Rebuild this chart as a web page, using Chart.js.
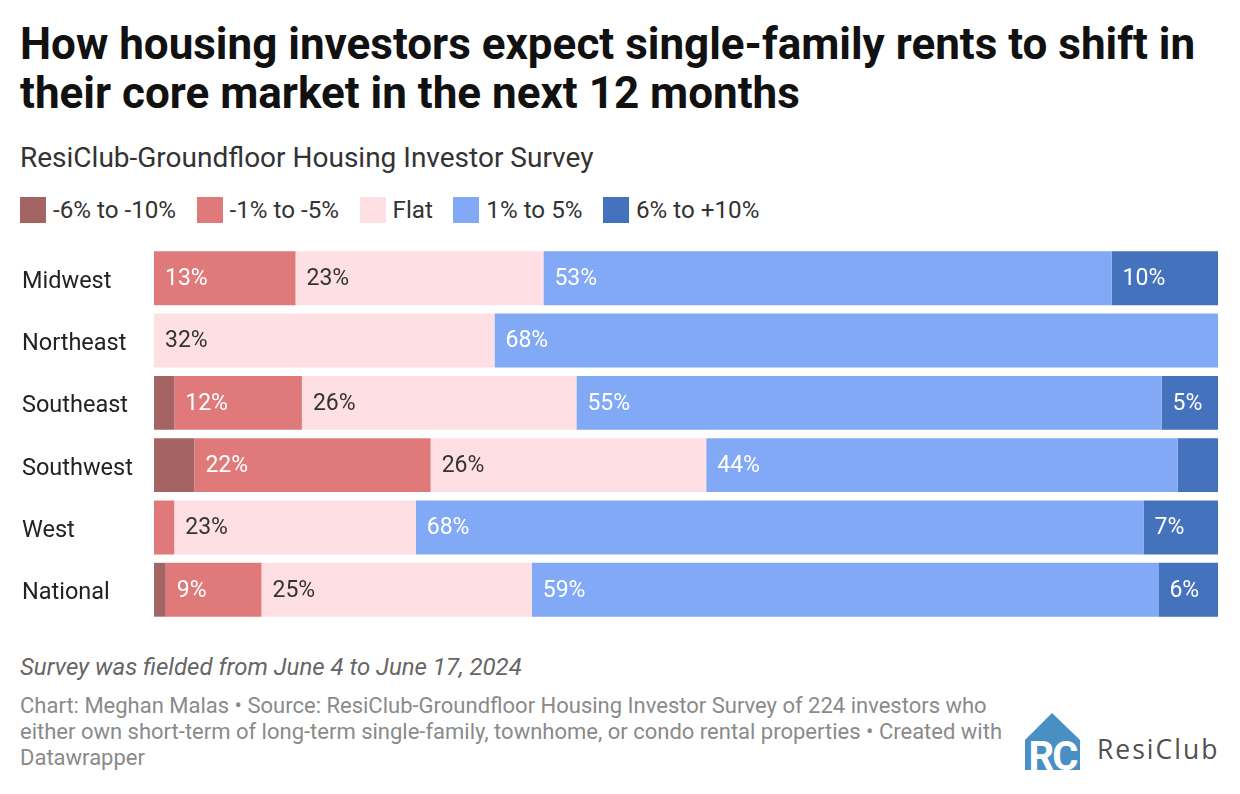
<!DOCTYPE html>
<html>
<head>
<meta charset="utf-8">
<script src="https://cdn.jsdelivr.net/npm/chart.js@4/dist/chart.umd.min.js"></script>
<style>
  html, body { margin: 0; padding: 0; background: #fff; }
  body { width: 1240px; height: 794px; position: relative; font-family: Roboto, "Noto Sans", sans-serif; overflow: hidden; }
  #title { position: absolute; left: 20px; top: 20px; width: 1210px; font-size: 44px; font-weight: 700; line-height: 49px; color: #111; }
  #subtitle { position: absolute; left: 20px; top: 141px; font-size: 28px; color: #333; }
  #legend { position: absolute; left: 20px; top: 197px; height: 26px; display: flex; align-items: center; font-size: 24.2px; color: #333; }
  .li { display: flex; align-items: center; margin-right: 20.5px; }
  .sw { width: 26px; height: 26px; margin-right: 7px; }
  #wrap { position: absolute; left: 0; top: 233px; width: 1240px; height: 402px; }
  #note { position: absolute; left: 20px; top: 653px; font-size: 24px; font-style: italic; color: #666; }
  #source { position: absolute; left: 20px; top: 693px; width: 1010px; font-size: 22px; line-height: 26px; color: #8a8a8a; }
  #logo { position: absolute; left: 1024px; top: 712px; }
</style>
</head>
<body>
<div id="title">How housing investors expect single-family rents to shift in their core market in the next 12 months</div>
<div id="subtitle">ResiClub-Groundfloor Housing Investor Survey</div>
<div id="legend"></div>
<div id="wrap"><canvas id="c"></canvas></div>
<div id="note">Survey was fielded from June 4 to June 17, 2024</div>
<div id="source">Chart: Meghan Malas • Source: ResiClub-Groundfloor Housing Investor Survey of 224 investors who either own short-term of long-term single-family, townhome, or condo rental properties • Created with Datawrapper</div>
<svg id="logo" width="210" height="60" viewBox="0 0 210 60">
  <polygon points="28,1 56,28 56,58 1,58 1,28" fill="#4a8fc4"/>
  <text x="28.5" y="58" text-anchor="middle" font-family="Roboto" font-weight="700" font-size="40" fill="#fff" letter-spacing="-2">RC</text>
  <text x="73" y="47" font-family="'Open Sans'" font-weight="500" font-size="26.5" fill="#505050" letter-spacing="2">ResiClub</text>
</svg>
<script>
const categories = ['Midwest', 'Northeast', 'Southeast', 'Southwest', 'West', 'National'];
const seriesNames = ['-6% to -10%', '-1% to -5%', 'Flat', '1% to 5%', '6% to +10%'];
const down6to10 = [0, 0, 1.9, 3.8, 0, 1.1];
const down1to5 = [13.3, 0, 12.0, 22.2, 1.9, 9.0];
const flat = [23.3, 32.0, 25.8, 25.9, 22.7, 25.4];
const up1to5 = [53.4, 68.0, 55.0, 44.3, 68.4, 58.9];
const up6to10 = [10.0, 0, 5.3, 3.8, 7.0, 5.6];

const colors = ['#a46464', '#e07a7a', '#fee0e4', '#82a9f6', '#4472bd'];
const labelColors = ['#ffffff', '#ffffff', '#333333', '#ffffff', '#ffffff'];
const allSeries = [down6to10, down1to5, flat, up1to5, up6to10];

const leg = document.getElementById('legend');
seriesNames.forEach((n, i) => {
  const d = document.createElement('div');
  d.className = 'li';
  d.innerHTML = '<div class="sw" style="background:' + colors[i] + '"></div><span>' + n + '</span>';
  leg.appendChild(d);
});

const segLabels = {
  id: 'segLabels',
  afterDatasetsDraw(chart) {
    const ctx = chart.ctx;
    ctx.save();
    ctx.font = '23px Roboto';
    ctx.textBaseline = 'middle';
    ctx.textAlign = 'left';
    chart.data.datasets.forEach((ds, di) => {
      const meta = chart.getDatasetMeta(di);
      meta.data.forEach((el, i) => {
        const v = ds.data[i];
        const w = Math.abs(el.x - el.base);
        if (!v || w < 48) return;
        ctx.fillStyle = labelColors[di];
        ctx.fillText(Math.round(v) + '%', Math.min(el.x, el.base) + 11, el.y + 1);
      });
    });
    ctx.restore();
  }
};

new Chart(document.getElementById('c'), {
  type: 'bar',
  data: {
    labels: categories,
    datasets: allSeries.map((d, i) => ({
      label: seriesNames[i],
      data: d,
      backgroundColor: colors[i],
      borderWidth: 0,
      barPercentage: 0.865,
      categoryPercentage: 1
    }))
  },
  options: {
    indexAxis: 'y',
    responsive: true,
    maintainAspectRatio: false,
    animation: false,
    layout: { padding: { left: 22, right: 22, top: 0, bottom: 0 } },
    plugins: { legend: { display: false }, tooltip: { enabled: false } },
    scales: {
      x: { stacked: true, min: 0, max: 100, display: false },
      y: {
        stacked: true,
        grid: { display: false },
        border: { display: false },
        ticks: { crossAlign: 'far', padding: 0, labelOffset: 3.5, color: '#222', font: { family: 'Roboto', size: 23.5 } },
        afterFit(scale) { scale.width = 132; }
      }
    }
  },
  plugins: [segLabels]
});
</script>
</body>
</html>
